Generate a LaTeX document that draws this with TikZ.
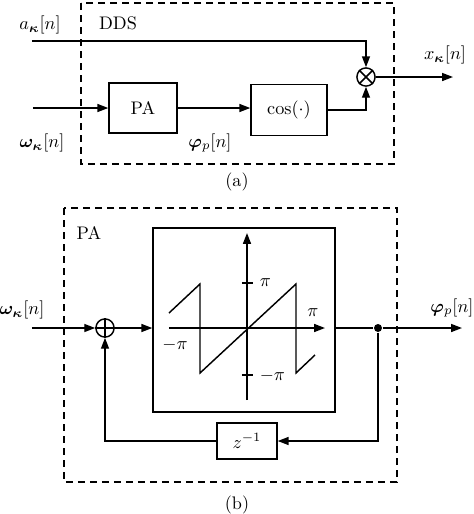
\documentclass[tikz,border=0pt]{standalone}
\usepackage{amsmath}
\usepackage{bm}
\usetikzlibrary{arrows.meta,calc,positioning}

\begin{document}
\begin{tikzpicture}[x=0.55pt,y=-0.55pt,font=\normalsize,line width=0.8pt,
 >={Triangle[length=6pt,width=4.4pt]},
 block/.style={draw,inner sep=0pt},
 frame/.style={dash pattern=on 4pt off 2.6pt},
 mix/.style={draw,circle,inner sep=0pt,minimum size=10pt},
 tapdot/.style={fill,circle,inner sep=0pt,minimum size=4.4pt}]
\useasboundingbox (0,0) rectangle (474,514);
% (a) DDS
\draw[frame] (81,3) rectangle (394,164);
\node (ddslbl) at (118,23) {DDS};
\node[block,minimum width=37.4pt,minimum height=27.5pt] (pa) at (143,108) {PA};
\node[block,minimum width=41.8pt,minimum height=28pt] (cos) at (289,110) {$\cos(\cdot)$};
\node[mix] (mul) at (366,77) {};
\draw (mul.north west) -- (mul.south east) (mul.north east) -- (mul.south west);
\coordinate (ain) at (32,41);
\coordinate (win) at (33,108);
\coordinate (xout) at (453,77);
\draw[->] (ain) -| (mul.north);
\draw[->] (win) -- (pa);
\draw[->] (pa.east) -- (pa.east -| cos.west);
\draw[->] (cos.east) -| (mul.south);
\draw[->] (mul) -- (xout);
\node (alab) at (40,25) {$a_{\bm{\kappa}}[n]$};
\node (wlab) at (42,143) {$\bm{\omega}_{\bm{\kappa}}[n]$};
\node (plab) at (210,143) {$\bm{\varphi}_p[n]$};
\node (xlab) at (445,55) {$x_{\bm{\kappa}}[n]$};
\node (capa) at (237,182) {(a)};
% (b) PA
\draw[frame] (64,208) rectangle (397,482);
\node (palbl) at (89,233) {PA};
\node[mix] (sum) at (105,328) {};
\draw (sum.north) -- (sum.south) (sum.west) -- (sum.east);
\node[block,minimum width=100.1pt,minimum height=101.2pt] (gbox) at (244,320) {};
\node[tapdot] (tap) at (378,328) {};
\node[block,minimum width=33pt,minimum height=19.8pt] (zd) at (247,441) {$z^{-1}$};
\coordinate (win2) at (32,328);
\coordinate (pout) at (462,328);
\draw[->] (win2) -- (sum);
\draw[->] (sum) -- (sum -| gbox.west);
\draw (sum -| gbox.east) -- (tap);
\draw[->] (tap) -- (pout);
\draw[->] (tap) |- (zd);
\draw[->] (zd) -| (sum);
\node (wlab2) at (22,310) {$\bm{\omega}_{\bm{\kappa}}[n]$};
\node (plab2) at (452,308) {$\bm{\varphi}_p[n]$};
\node (capb) at (237,505) {(b)};
% wrapping curve
\draw[->] (169,328) -- (325,328);
\draw[->] (247,400) -- (247,233);
\draw (242,283) -- (253,283) (242,375) -- (253,375);
\draw (169,313) -- (200,284) -- (200,373) -- (296,284) -- (296,373) -- (315,355);
\node (pix) at (313,313) {$\pi$};
\node (mpix) at (175,345) {$-\pi$};
\node[anchor=west] (piy) at (253,283) {$\pi$};
\node[anchor=west] (mpiy) at (253,376) {$-\pi$};
\end{tikzpicture}
\end{document}
